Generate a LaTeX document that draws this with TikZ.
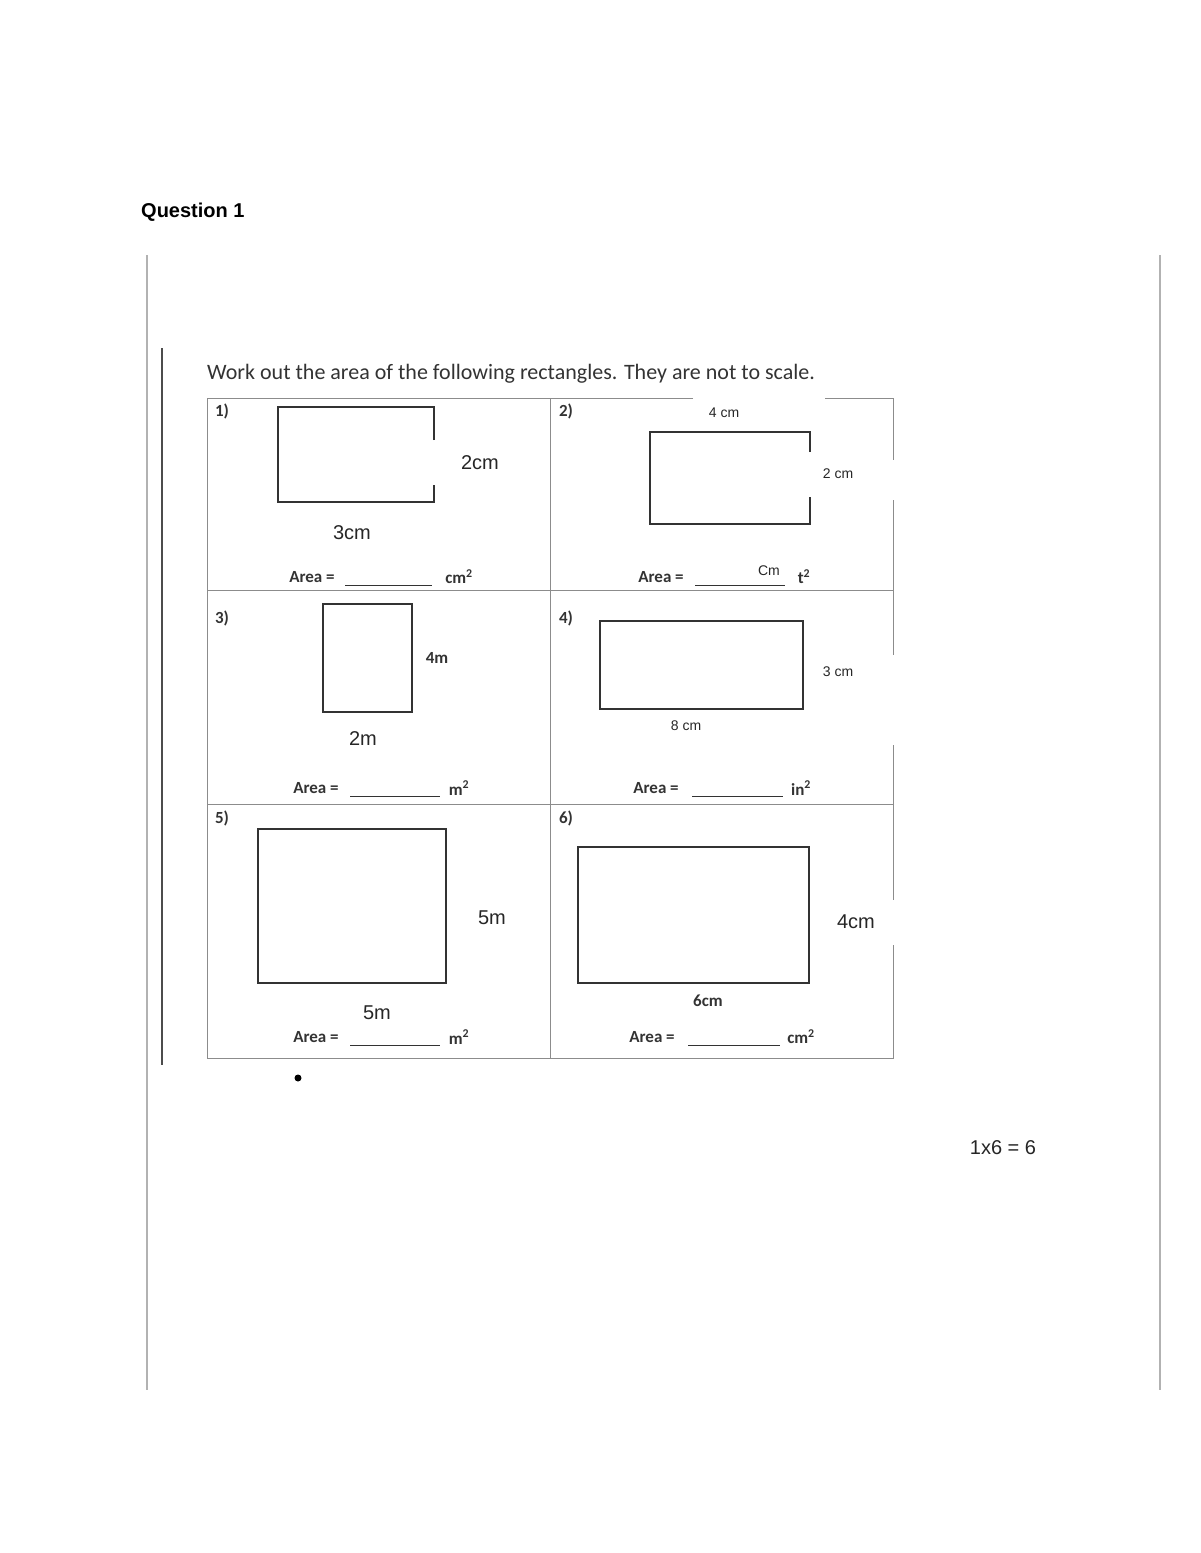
\documentclass[tikz,border=0pt]{standalone}
\usepackage{fontspec}
\setmainfont{Carlito}
\newfontfamily\arial{Liberation Sans}
\begin{document}
\begin{tikzpicture}[x=1pt,y=-1pt,
  grid/.style={draw=black!45,line width=0.9pt},
  rct/.style={draw=black!80,line width=1.2pt},
  cal/.style={font=\fontsize{17}{17}\selectfont,text=black!80,inner sep=0pt},
  ari/.style={font=\arial\fontsize{20}{20}\selectfont,text=black!85,inner sep=0pt},
  sml/.style={font=\arial\fontsize{14}{14}\selectfont,text=black!85,inner sep=0pt}]
\useasboundingbox (0,0) rectangle (1200,1553);
\node[font=\arial\bfseries\fontsize{20}{20}\selectfont,anchor=west,inner sep=0pt] (q) at (141,212) {Question 1};
\draw[black!30,line width=2pt] (147,255) -- (147,1390);
\draw[black!30,line width=2pt] (1160,255) -- (1160,1390);
\draw[black!70,line width=1.2pt] (162,348) -- (162,1065);
\node[cal,font=\fontsize{22}{22}\selectfont,anchor=west] (t) at (207,374) {Work out the area of the following rectangles. They are not to scale.};
% table
\draw[grid] (693,398) -- (207,398) -- (207,1058) -- (893,1058) -- (893,1000);
\draw[grid] (825,398) -- (893,398) -- (893,460);
\draw[grid] (893,500) -- (893,655);
\draw[grid] (893,745) -- (893,900);
\draw[grid] (893,945) -- (893,1058);
\draw[grid] (207,590) -- (893,590);
\draw[grid] (207,804) -- (893,804);
\draw[grid] (550,398) -- (550,1058);
% numbers
\foreach \n/\x/\y in {1/222/411,2/566/411,3/222/618,4/566/618,5/222/818,6/566/818}
  \node[cal,font=\bfseries\fontsize{17}{17}\selectfont] (n\n) at (\x,\y) {\n)};
% rectangles
\draw[rct] (434,440) -- (434,407) -- (278,407) -- (278,502) -- (434,502) -- (434,485);
\draw[rct] (810,452) -- (810,432) -- (650,432) -- (650,524) -- (810,524) -- (810,497);
\draw[rct] (323,604) rectangle (412,712);
\draw[rct] (600,621) rectangle (803,709);
\draw[rct] (258,829) rectangle (446,983);
\draw[rct] (578,847) rectangle (809,983);
% dimension labels
\node[ari] (a1) at (480,463) {2cm};
\node[ari] (a2) at (352,533) {3cm};
\node[sml] (b1) at (724,413) {4 cm};
\node[sml] (b2) at (838,474) {2 cm};
\node[cal,font=\bfseries\fontsize{17}{17}\selectfont] (c1) at (437,658) {4m};
\node[ari] (c2) at (363,739) {2m};
\node[sml] (d1) at (838,672) {3 cm};
\node[sml] (d2) at (686,726) {8 cm};
\node[ari] (e1) at (492,918) {5m};
\node[ari] (e2) at (377,1013) {5m};
\node[cal,font=\bfseries\fontsize{17}{17}\selectfont] (f1) at (708,1001) {6cm};
\node[ari] (f2) at (856,922) {4cm};
% area lines
\foreach \ax/\y/\la/\lb/\ux/\u in {312/577/345/432/459/cm, 661/577/695/785/804/t, 316/788/350/440/459/m, 656/788/692/783/801/in, 316/1037/350/440/459/m, 652/1037/688/780/801/cm}{
  \node[cal,font=\bfseries\fontsize{17}{17}\selectfont] at (\ax,\y) {Area =};
  \draw[black!80,line width=1pt] (\la,\y+8) -- (\lb,\y+8);
  \node[cal,font=\bfseries\fontsize{17}{17}\selectfont] at (\ux,\y) {\u\textsuperscript{2}};
}
\node[sml] (cm) at (769,571) {Cm};
\fill (298,1078) circle (3.5);
\node[ari] (s) at (1003,1148) {1x6 = 6};
\end{tikzpicture}
\end{document}
